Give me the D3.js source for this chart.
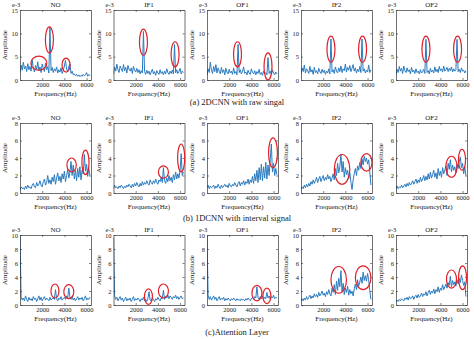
<!DOCTYPE html>
<html>
<head>
<meta charset="utf-8">
<script src="https://cdn.jsdelivr.net/npm/d3@7"></script>
<style>
body { margin: 0; background: #fff; }
svg text { font-family: "Liberation Serif", "Times New Roman", serif; fill: #1a1a1a; }
.domain { stroke: #333; }
.tick line { stroke: #333; }
</style>
</head>
<body>
<div id="chart"></div>
<script>
var width = 474;
var height = 339;

var titles = ["NO", "IF1", "OF1", "IF2", "OF2"];
var captions = ["(a) 2DCNN with raw singal", "(b) 1DCNN with  interval signal", "(c)Attention Layer"];
var yMax = [15, 8, 10];
var yTicks = [[0, 5, 10, 15], [0, 2, 4, 6, 8], [0, 2, 4, 6, 8, 10]];
var xTicks = [2000, 4000, 6000];
var freqMax = 6400;
var freqStep = 100; // Hz between samples

// row (a) 2DCNN with raw signal
var rawNO = [1.5, 3.2, 2.1, 3.8, 2.4, 3.0, 1.8, 3.5, 2.2, 2.9, 1.9, 4.3, 2.6, 1.7, 3.1, 2.3, 3.9, 2.0, 2.8, 1.6, 3.4, 2.5, 1.8, 3.6, 2.2, 2.9, 1.5, 11.2, 2.0, 2.7, 1.6, 2.4, 1.9, 2.8, 1.5, 2.2, 1.7, 2.6, 1.4, 2.1, 3.0, 4.2, 2.3, 1.8, 2.9, 3.5, 1.4, 1.9, 1.1, 1.3, 0.9, 1.2, 0.8, 1.1, 0.7, 1.0, 0.8, 1.2, 0.9, 1.1, 1.6, 0.8, 1.2, 0.9];
var rawIF1 = [1.2, 2.8, 1.9, 3.4, 2.2, 1.6, 3.0, 2.4, 1.8, 3.3, 2.0, 2.7, 1.5, 3.1, 2.3, 1.9, 2.6, 1.4, 2.9, 2.1, 1.7, 2.5, 1.6, 2.2, 1.3, 2.0, 1.5, 10.4, 1.8, 1.2, 2.1, 1.4, 1.9, 1.1, 1.7, 2.3, 1.3, 1.8, 1.0, 2.0, 1.5, 1.2, 2.2, 1.4, 1.8, 1.1, 1.9, 1.3, 2.4, 1.6, 1.2, 1.9, 1.4, 2.1, 1.3, 7.6, 1.5, 2.2, 1.4, 1.8, 2.5, 1.3, 1.9, 1.6];
var rawOF1 = [1.0, 2.4, 1.6, 3.8, 2.1, 1.4, 2.9, 1.8, 3.3, 1.5, 2.6, 1.9, 1.3, 2.7, 1.6, 2.2, 1.1, 2.5, 1.7, 1.3, 2.3, 1.5, 1.9, 1.2, 2.6, 1.4, 1.8, 1.1, 7.6, 1.6, 2.2, 1.3, 1.9, 2.8, 1.4, 1.7, 1.1, 2.1, 1.5, 1.2, 2.4, 1.6, 1.3, 2.0, 1.1, 1.8, 1.4, 2.3, 1.2, 1.6, 1.0, 1.9, 1.3, 1.6, 1.1, 4.8, 1.4, 1.9, 1.2, 2.2, 1.5, 1.1, 1.7, 1.3];
var rawIF2 = [1.3, 2.6, 1.8, 3.2, 1.5, 2.4, 2.0, 1.4, 2.9, 1.7, 2.2, 1.2, 2.7, 1.6, 2.0, 1.3, 2.5, 1.8, 1.4, 2.3, 1.6, 2.1, 1.2, 1.9, 1.5, 2.4, 1.3, 8.8, 1.7, 2.2, 1.4, 2.8, 1.9, 1.5, 2.6, 1.8, 3.0, 1.6, 2.4, 2.0, 3.4, 1.7, 2.7, 2.1, 3.1, 1.8, 2.5, 3.3, 1.9, 2.6, 1.5, 2.3, 1.8, 2.9, 1.6, 8.8, 1.9, 2.4, 1.5, 2.1, 1.7, 3.2, 1.6, 2.2];
var rawOF2 = [1.1, 2.3, 1.6, 2.9, 1.9, 2.5, 1.4, 3.0, 2.0, 1.6, 2.6, 1.8, 2.2, 1.3, 2.7, 1.7, 2.1, 1.4, 2.4, 1.6, 1.9, 1.3, 2.2, 1.5, 1.8, 2.3, 1.4, 8.7, 1.6, 2.0, 1.3, 2.5, 1.7, 2.1, 1.5, 2.8, 1.8, 2.3, 1.6, 2.9, 2.0, 2.4, 1.7, 3.0, 1.9, 2.2, 2.7, 1.8, 2.5, 2.0, 2.8, 1.7, 2.4, 1.9, 2.2, 8.7, 1.8, 2.3, 1.6, 2.6, 1.9, 2.1, 1.5, 2.0];

// row (b) 1DCNN with interval signal
var intNO = [0.3, 0.7, 0.5, 0.6, 0.4, 0.8, 0.5, 0.9, 0.6, 0.7, 0.5, 0.9, 1.1, 0.7, 0.6, 1.2, 0.8, 1.0, 1.4, 0.9, 0.7, 1.3, 1.6, 0.9, 1.2, 2.0, 1.1, 1.5, 1.0, 1.8, 1.3, 2.1, 1.0, 1.7, 2.3, 1.4, 1.9, 1.2, 2.2, 1.6, 2.5, 1.3, 2.0, 2.7, 1.7, 2.4, 3.6, 2.0, 3.2, 1.6, 2.6, 1.4, 2.8, 1.8, 3.0, 1.5, 2.6, 2.2, 4.4, 2.5, 3.3, 1.9, 2.8, 2.0];
var intIF1 = [0.5, 0.9, 0.6, 0.7, 0.5, 0.8, 0.6, 0.9, 0.7, 0.5, 0.8, 0.6, 0.9, 0.7, 1.0, 0.8, 0.6, 1.0, 0.7, 1.1, 0.8, 1.2, 0.9, 0.7, 1.1, 0.8, 1.3, 0.9, 1.2, 1.0, 1.4, 1.1, 0.9, 1.5, 1.2, 1.0, 1.4, 1.1, 1.6, 1.2, 1.0, 1.5, 1.3, 1.8, 1.2, 2.9, 1.4, 1.1, 1.7, 1.3, 2.0, 1.4, 1.8, 1.2, 2.1, 1.5, 2.4, 1.6, 2.2, 1.7, 2.6, 4.5, 2.0, 2.4];
var intOF1 = [0.6, 0.9, 0.5, 0.8, 0.6, 0.7, 0.9, 0.5, 0.8, 0.6, 1.0, 0.7, 0.5, 0.9, 0.6, 0.8, 1.0, 0.7, 0.9, 0.6, 1.1, 0.8, 0.7, 1.0, 0.8, 1.2, 0.9, 0.7, 1.1, 1.3, 0.8, 1.2, 1.0, 1.4, 0.9, 1.3, 1.1, 1.6, 1.0, 1.5, 1.2, 1.9, 1.1, 2.2, 1.4, 2.6, 1.2, 2.9, 1.5, 3.3, 1.4, 3.0, 1.7, 3.5, 1.6, 3.2, 2.0, 3.8, 5.6, 2.4, 3.4, 2.0, 2.8, 2.1];
var intIF2 = [0.4, 0.7, 0.5, 0.9, 0.6, 1.0, 0.7, 1.1, 0.8, 1.3, 1.0, 1.5, 1.1, 1.4, 1.8, 1.2, 1.6, 1.9, 1.3, 1.7, 2.0, 1.4, 1.8, 1.5, 2.1, 1.6, 1.9, 1.3, 1.7, 2.2, 1.5, 2.8, 2.0, 3.4, 2.3, 3.0, 4.4, 2.4, 3.6, 1.8, 2.9, 2.1, 2.6, 1.6, 2.3, 1.2, 0.4, 1.5, 2.2, 2.8, 2.0, 3.1, 2.6, 3.5, 2.8, 3.9, 3.2, 4.2, 3.6, 4.0, 3.3, 3.8, 2.5, 0.9];
var intOF2 = [0.4, 0.8, 0.5, 0.7, 0.6, 0.9, 0.6, 0.8, 1.0, 0.7, 1.1, 0.8, 1.2, 0.9, 1.1, 1.4, 1.0, 1.3, 1.6, 1.1, 1.5, 1.2, 1.8, 1.3, 1.6, 2.0, 1.4, 1.9, 1.5, 2.2, 1.6, 2.4, 1.7, 2.1, 2.6, 1.8, 2.3, 1.6, 2.8, 2.0, 2.5, 1.8, 2.9, 2.2, 2.6, 3.1, 2.0, 3.4, 2.7, 3.8, 2.4, 3.2, 2.6, 3.0, 2.3, 3.3, 2.8, 3.6, 4.1, 2.9, 3.4, 2.2, 3.0, 2.0];

// row (c) attention layer
var attNO = [10.0, 1.2, 0.7, 1.0, 0.6, 1.3, 0.8, 0.5, 1.1, 0.7, 0.9, 0.6, 1.2, 0.8, 1.0, 0.5, 0.9, 1.3, 0.7, 1.1, 0.6, 0.9, 1.2, 0.7, 1.0, 0.8, 0.6, 1.1, 0.7, 0.9, 1.0, 0.8, 2.2, 0.9, 0.6, 1.0, 0.8, 1.2, 0.7, 0.9, 1.1, 0.8, 1.3, 1.0, 2.4, 1.1, 0.8, 1.2, 0.7, 1.0, 0.6, 0.9, 1.2, 0.7, 1.0, 0.8, 1.1, 0.6, 0.9, 1.3, 0.7, 1.0, 0.8, 1.1];
var attIF1 = [9.6, 1.3, 0.8, 1.1, 0.6, 0.9, 1.2, 0.7, 1.0, 0.5, 0.8, 1.1, 0.6, 0.9, 0.7, 1.0, 0.5, 0.8, 1.2, 0.6, 0.9, 0.7, 1.0, 0.8, 0.5, 0.9, 0.7, 1.1, 0.6, 0.8, 0.5, 0.9, 1.9, 0.7, 0.6, 1.0, 0.8, 0.5, 0.9, 0.7, 1.1, 0.8, 0.6, 1.0, 0.9, 2.1, 0.8, 1.2, 1.0, 1.4, 0.9, 1.3, 1.1, 0.8, 1.2, 1.0, 1.4, 0.9, 1.2, 0.8, 1.1, 1.3, 0.9, 1.0];
var attOF1 = [10.0, 1.4, 0.8, 1.2, 0.7, 1.0, 1.3, 0.8, 1.1, 0.6, 0.9, 1.2, 0.7, 1.0, 0.8, 1.1, 0.6, 0.9, 0.7, 1.0, 0.8, 0.6, 0.9, 0.7, 1.0, 0.8, 0.6, 0.9, 0.7, 0.8, 0.6, 0.9, 0.7, 0.8, 0.6, 0.9, 0.7, 1.0, 0.8, 0.6, 0.9, 1.1, 0.8, 1.2, 1.0, 2.6, 1.1, 0.8, 1.2, 0.9, 1.3, 0.8, 1.1, 0.9, 1.8, 1.0, 1.3, 0.8, 1.2, 1.0, 1.4, 0.9, 1.1, 1.0];
var attIF2 = [0.5, 0.9, 0.6, 1.0, 0.7, 1.2, 0.8, 1.1, 1.4, 0.9, 1.3, 1.0, 1.6, 1.2, 1.5, 1.1, 1.8, 1.3, 1.6, 2.0, 1.4, 1.7, 1.2, 1.9, 1.5, 2.2, 1.6, 1.3, 2.4, 1.8, 2.9, 1.5, 3.4, 2.1, 3.8, 2.6, 4.9, 1.9, 3.1, 1.5, 2.4, 1.8, 2.7, 1.4, 2.2, 1.6, 2.0, 1.3, 2.3, 3.0, 2.2, 3.6, 2.7, 3.3, 4.0, 3.1, 4.7, 3.5, 4.2, 3.4, 4.5, 3.6, 2.1, 0.8];
var attOF2 = [0.4, 0.7, 0.5, 0.8, 0.6, 0.9, 0.7, 0.6, 1.0, 0.8, 1.1, 0.7, 1.2, 0.9, 1.0, 1.3, 0.8, 1.2, 1.4, 1.0, 1.5, 1.1, 1.3, 1.7, 1.2, 1.6, 1.4, 1.9, 1.3, 1.8, 2.1, 1.5, 2.0, 1.7, 2.3, 1.6, 2.2, 1.9, 2.6, 1.8, 2.4, 2.1, 2.9, 2.2, 2.6, 3.0, 2.4, 3.2, 2.8, 4.1, 2.6, 3.5, 2.9, 3.3, 2.7, 3.6, 3.0, 3.8, 3.2, 4.3, 3.5, 2.8, 3.3, 1.2];

// highlighted regions: [centre Hz, centre amplitude, half-width Hz, half-height amplitude]
var marksRaw = [
    [[1700, 3.6, 720, 1.5], [2650, 8.6, 360, 2.8], [4150, 3.2, 360, 1.5]],
    [[2700, 8.1, 360, 2.8], [5550, 5.5, 360, 2.7]],
    [[2750, 5.5, 360, 2.7], [5500, 2.9, 360, 2.9]],
    [[2700, 6.6, 360, 2.8], [5550, 6.6, 360, 2.8]],
    [[2700, 6.6, 360, 2.8], [5550, 6.6, 360, 2.8]]
];
var marksInt = [
    [[4650, 3.2, 420, 0.8], [5900, 3.5, 320, 1.4]],
    [[4500, 2.4, 450, 0.7], [6100, 4.0, 320, 1.6]],
    [[5950, 4.6, 400, 1.7]],
    [[3700, 2.7, 700, 1.7], [5900, 3.5, 500, 1.0]],
    [[5000, 3.0, 500, 1.2], [5950, 3.8, 320, 1.2]]
];
var marksAtt = [
    [[3150, 2.0, 360, 1.0], [4400, 1.9, 450, 1.0]],
    [[3150, 1.2, 360, 1.1], [4500, 2.0, 450, 1.0]],
    [[4500, 1.7, 450, 1.1], [5400, 1.3, 360, 1.1]],
    [[3400, 3.6, 700, 1.9], [5600, 3.9, 700, 1.7]],
    [[5000, 3.7, 450, 1.3], [6000, 3.9, 360, 1.7]]
];

var rows = [
    [rawNO, rawIF1, rawOF1, rawIF2, rawOF2],
    [intNO, intIF1, intOF1, intIF2, intOF2],
    [attNO, attIF1, attOF1, attIF2, attOF2]
];
var marks = [marksRaw, marksInt, marksAtt];

// layout
var panelW = 71;
var panelH = 70;
var panelLeft = [20, 113.5, 207, 301, 396];
var panelTop = [10, 123, 235];
var captionY = [105, 221, 335];

var svg = d3.select("#chart").append("svg")
    .attr("width", width)
    .attr("height", height);

var xScale = d3.scaleLinear().domain([0, freqMax]).range([0, panelW]);

rows.forEach(function (series, r) {
    var yScale = d3.scaleLinear().domain([0, yMax[r]]).range([panelH, 0]);

    var line = d3.line()
        .x(function (d, i) { return xScale(i * freqStep); })
        .y(function (d) { return yScale(d); });

    series.forEach(function (values, c) {
        var g = svg.append("g")
            .attr("transform", "translate(" + panelLeft[c] + "," + panelTop[r] + ")");

        var clipId = "clip" + r + "_" + c;
        g.append("clipPath").attr("id", clipId)
            .append("rect").attr("width", panelW).attr("height", panelH);

        g.append("path")
            .datum(values)
            .attr("clip-path", "url(#" + clipId + ")")
            .attr("d", line)
            .attr("fill", "none")
            .attr("stroke", "#2a7bc0")
            .attr("stroke-width", 1);

        // box with inward ticks on all sides
        var xb = g.append("g").attr("transform", "translate(0," + panelH + ")")
            .call(d3.axisBottom(xScale).tickValues(xTicks).tickSizeInner(-2).tickSizeOuter(0).tickPadding(2).tickFormat(d3.format("d")));
        xb.selectAll("text").style("font-size", "6.5px");
        g.append("g")
            .call(d3.axisTop(xScale).tickValues(xTicks).tickSizeInner(-2).tickSizeOuter(0).tickFormat(""));
        var yl = g.append("g")
            .call(d3.axisLeft(yScale).tickValues(yTicks[r]).tickSizeInner(-2).tickSizeOuter(0).tickPadding(2));
        yl.selectAll("text").style("font-size", "6.5px");
        g.append("g").attr("transform", "translate(" + panelW + ",0)")
            .call(d3.axisRight(yScale).tickValues(yTicks[r]).tickSizeInner(-2).tickSizeOuter(0).tickFormat(""));
        g.selectAll(".domain").attr("stroke-width", 0.7);
        g.selectAll(".tick line").attr("stroke-width", 0.6);

        // red ellipses
        g.selectAll(".mark")
            .data(marks[r][c])
            .enter().append("ellipse")
            .attr("class", "mark")
            .attr("cx", function (d) { return xScale(d[0]); })
            .attr("cy", function (d) { return yScale(d[1]); })
            .attr("rx", function (d) { return xScale(d[2]) - xScale(0); })
            .attr("ry", function (d) { return yScale(0) - yScale(d[3]); })
            .attr("fill", "none")
            .attr("stroke", "#e0202a")
            .attr("stroke-width", 1.2);

        g.append("text").attr("x", panelW / 2).attr("y", -3)
            .style("text-anchor", "middle").style("font-size", "7px").text(titles[c]);
        g.append("text").attr("x", -8).attr("y", -3)
            .style("font-size", "6.5px").text("e-3");
        g.append("text").attr("x", panelW / 2).attr("y", panelH + 16)
            .style("text-anchor", "middle").style("font-size", "7px").text("Frequency(Hz)");
        g.append("text")
            .attr("transform", "translate(-13," + (panelH / 2) + ") rotate(-90)")
            .style("text-anchor", "middle").style("font-size", "7px").text("Amplitude");
    });

    svg.append("text").attr("x", width / 2).attr("y", captionY[r])
        .style("text-anchor", "middle").style("font-size", "8.5px").text(captions[r]);
});
</script>
</body>
</html>
